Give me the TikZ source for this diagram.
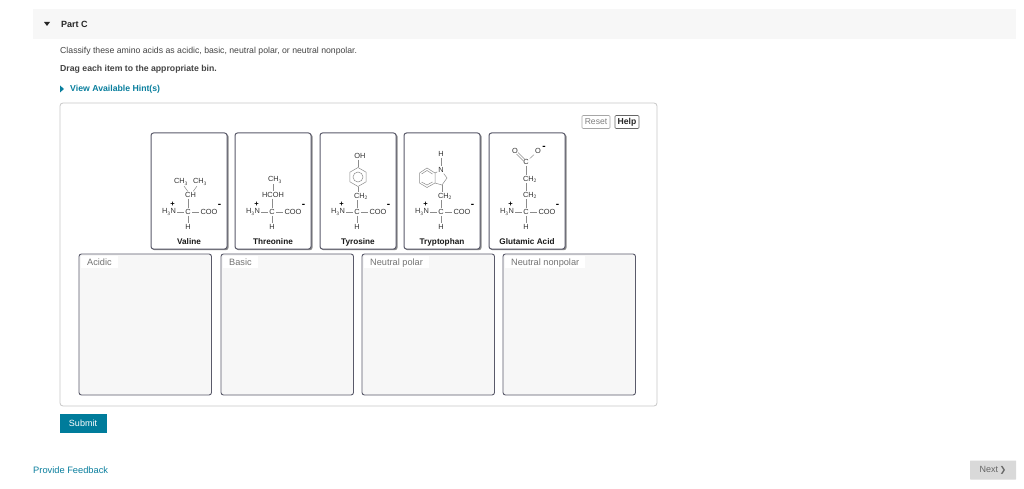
\documentclass[tikz,border=0pt]{standalone}
\usepackage{fontspec}
\setmainfont{Liberation Sans}
\definecolor{teal1}{HTML}{007C9B}
\definecolor{linkc}{HTML}{0A7F9E}
\definecolor{txt}{HTML}{444444}
\definecolor{bdr}{HTML}{5A5A6A}
\newcommand{\fs}[1]{\fontsize{#1}{#1}\selectfont}
\tikzset{
  x=1pt,y=-1pt,
  atom/.style={inner sep=0.9pt,font=\fs{7.4},text=black!80},
  chg/.style={inner sep=0pt,font=\fs{7.5}\bfseries,text=black},
  minusg/.style={inner sep=0pt,font=\fs{10}\bfseries,text=black},
  bond/.style={draw=black!45,line width=0.5pt},
  cardbox/.style={draw=bdr,line width=1pt,rounded corners=2.5pt,fill=white},
  cardshadow/.style={draw=none,fill=black!45,rounded corners=2.5pt},
  cardname/.style={inner sep=0pt,font=\fs{8.2}\bfseries,text=black!90},
  binbox/.style={draw=bdr,line width=0.9pt,rounded corners=2.5pt,fill=black!3},
  binname/.style={inner xsep=6pt,inner ysep=2pt,font=\fs{9.2},text=black!55,fill=white,anchor=west,text depth=0.5pt,text height=7pt},
  para/.style={inner sep=0pt,anchor=west,text=txt,font=\fs{8.7}},
  smallbtn/.style={draw=black!35,line width=0.6pt,rounded corners=1pt,fill=white,inner sep=0pt,minimum width=28,minimum height=13,font=\fs{8.6},text=black!50},
}
\newcommand{\card}[3]{%
  \fill[cardshadow] (#2+1,134) rectangle (#2+77.5,250.2);
  \node[cardbox,minimum width=76,minimum height=116,inner sep=0pt] (#1card) at (#2+38,191) {};
  \node[cardname] (#1name) at (#2+38,242) {#3};
  \node[atom] (#1c) at (#2+37,212) {C};
  \node[atom] (#1n) at (#2+18,212) {H$_{\mathsf 3}$N};
  \node[atom] (#1coo) at (#2+58,212) {COO};
  \node[atom] (#1h) at (#2+37,227) {H};
  \node[chg] (#1plus) at (#2+21.5,204) {+};
  \node[minusg] (#1minus) at (#2+68.5,205.5) {-};
  \draw[bond] (#1n) -- (#1c);
  \draw[bond] (#1c) -- (#1coo);
  \draw[bond] (#1c) -- (#1h);
}
\begin{document}
\begin{tikzpicture}
\useasboundingbox (0,0) rectangle (1024,489);
\fill[white] (0,0) rectangle (1024,489);
% header
\node[draw=none,fill=black!3,minimum width=983,minimum height=30,inner sep=0pt] (band) at (524.5,24) {};
\fill[black!85] (44,22) -- (50,22) -- (47,26) -- cycle;
\node[inner sep=0pt,anchor=west,font=\fs{9}\bfseries,text=black!85] (part) at (61,24) {Part C};
\node[para] (q1) at (60,51) {Classify these amino acids as acidic, basic, neutral polar, or neutral nonpolar.};
\node[para,font=\fs{8.7}\bfseries] (q2) at (60,69) {Drag each item to the appropriate bin.};
\fill[linkc] (60,85.5) -- (64,89) -- (60,92.5) -- cycle;
\node[para,text=linkc,font=\fs{8.7}\bfseries] (hint) at (70,89) {View Available Hint(s)};
% panel
\node[draw=black!22,line width=0.8pt,rounded corners=3pt,fill=white,minimum width=597,minimum height=303,inner sep=0pt] (panel) at (358.5,254.5) {};
\node[smallbtn] (reset) at (596,122) {Reset};
\node[smallbtn,draw=black!60,text=black!85,minimum width=24,font=\fs{8.6}\bfseries] (help) at (627,122) {Help};
% cards
\card{v}{151}{Valine}
\node[atom] (v1) at (181,182) {CH$_{\mathsf 3}$};
\node[atom] (v2) at (200,182) {CH$_{\mathsf 3}$};
\node[atom] (vch) at (190.5,195) {CH};
\draw[bond] (v1) -- (vch); \draw[bond] (v2) -- (vch); \draw[bond] (vc |- vch.south) -- (vc);
\card{t}{235}{Threonine}
\node[atom] (t1) at (275,180) {CH$_{\mathsf 3}$};
\node[atom] (t2) at (273,195) {HCOH};
\draw[bond] (t2 |- t1.south) -- (t2); \draw[bond] (tc |- t2.south) -- (tc);
\card{y}{320}{Tyrosine}
\node[atom] (yoh) at (360,156) {OH};
\node[atom] (ych) at (361,196) {CH$_{\mathsf 2}$};
\node[draw=black!45,line width=0.5pt,circle,minimum size=10,inner sep=0pt] (yin) at (358,177) {};
\coordinate (yt) at (358,167.5); \coordinate (yb) at (358,186.5);
\draw[bond] (yt) -- ++(8.2,4.75) -- ++(0,9.5) -- (yb) -- ++(-8.2,-4.75) -- ++(0,-9.5) -- cycle;
\draw[bond] (yt |- yoh.south) -- (yt); \draw[bond] (yb) -- (yb |- ych.north); \draw[bond] (yc |- ych.south) -- (yc);
\card{w}{404}{Tryptophan}
\node[atom] (wh) at (441,154) {H};
\node[atom] (wn) at (441,170) {N};
\node[atom] (wch) at (445,196) {CH$_{\mathsf 2}$};
\draw[bond] (wh) -- (wn); \draw[bond] (wc |- wch.south) -- (wc);
\coordinate (w3) at (442,185);
\coordinate (w3a) at (435,183);
\coordinate (w7a) at (435,173);
\draw[bond] (w7a) -- (427,168) -- (419.5,173) -- (419.5,183) -- (427,187.5) -- (w3a) -- cycle;
\draw[bond] (421.5,174) -- (427,170.5) -- (432.5,174) (432.5,182) -- (427,185) -- (421.5,182);
\draw[bond] (w7a) -- (wn) -- (447,178) -- (w3) -- (w3a);
\draw[bond] (w3) -- (w3 |- wch.north);
\card{g}{489}{Glutamic Acid}
\node[atom] (gch1) at (530,179) {CH$_{\mathsf 2}$};
\node[atom] (gch2) at (530,195) {CH$_{\mathsf 2}$};
\node[atom] (gc2) at (526,162) {C};
\node[atom] (go1) at (515,151) {O};
\node[atom] (go2) at (538,151) {O};
\node[minusg] (gm2) at (544,147.5) {-};
\draw[bond] (gc2) -- (gc2 |- gch1.north); \draw[bond] (gc2 |- gch1.south) -- (gc2 |- gch2.north); \draw[bond] (gc |- gch2.south) -- (gc);
\draw[bond] (gc2) -- (go2);
\draw[bond] (518,152.5) -- (525,159.5) (516.5,154) -- (523.5,161);
% bins
\foreach \nm/\lbl/\xa in {acid/Acidic/79,basic/Basic/221,polar/Neutral polar/362,nonpolar/Neutral nonpolar/503}{
  \node[binbox,minimum width=132.5,minimum height=141,inner sep=0pt] (bin\nm) at (\xa+66.25,324.5) {};
  \node[binname] (lbl\nm) at (\xa+2,262) {\lbl};
}
% submit, footer
\node[fill=teal1,minimum width=47,minimum height=19,inner sep=0pt,text=white,font=\fs{9}] (submit) at (83,423.5) {Submit};
\node[para,text=linkc,font=\fs{9.3}] (fb) at (33,470) {Provide Feedback};
\node[fill=black!15,minimum width=46,minimum height=19,inner sep=0pt,text=black!60,font=\fs{9},rounded corners=0.5pt] (next) at (993,470) {Next\,\textbf{\fontspec{DejaVu Sans}\fs{8}❯}};
\end{tikzpicture}
\end{document}
